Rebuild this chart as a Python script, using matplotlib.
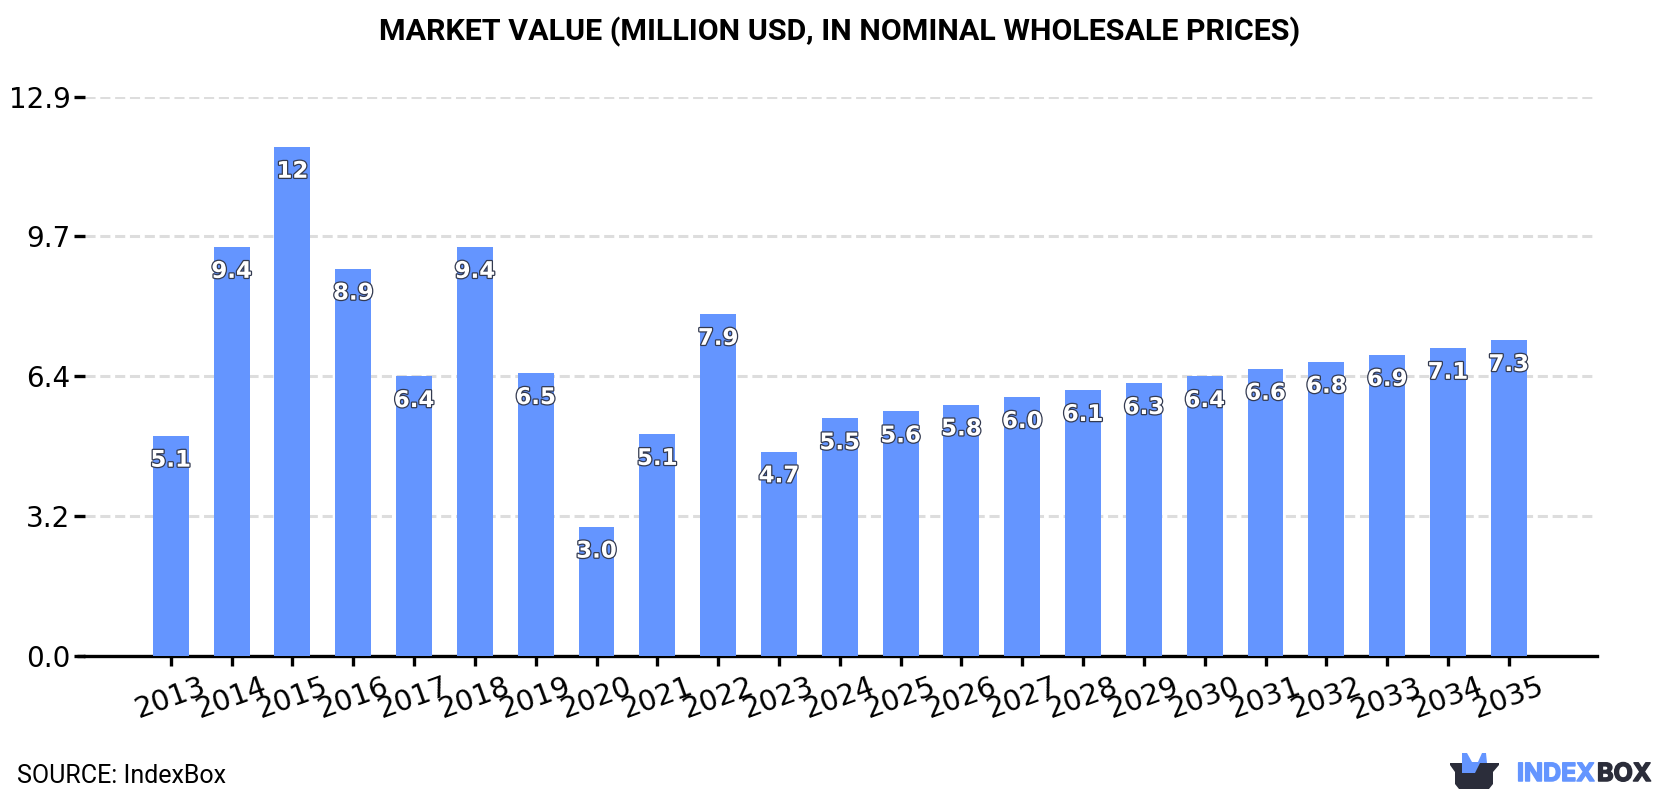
import matplotlib
matplotlib.use("Agg")
import matplotlib.pyplot as plt
import matplotlib.patheffects as pe
from matplotlib.patches import Polygon
from matplotlib.transforms import Affine2D

years = [2013, 2014, 2015, 2016, 2017, 2018, 2019, 2020, 2021, 2022, 2023, 2024,
         2025, 2026, 2027, 2028, 2029, 2030, 2031, 2032, 2033, 2034, 2035]
market_value = [5.06, 9.4, 11.7, 8.9, 6.43, 9.4, 6.5, 2.97, 5.1, 7.86, 4.7, 5.46,
                5.62, 5.78, 5.95, 6.11, 6.27, 6.43, 6.6, 6.76, 6.92, 7.08, 7.26]
y_ticks = [0.0, 3.215, 6.43, 9.645, 12.86]
y_tick_labels = ["0.0", "3.2", "6.4", "9.7", "12.9"]

BLUE = "#6495FF"
DARK = "#2B2D3A"
W, H = 1680, 800


def value_label(v):
    return f"{v:.0f}" if v >= 10 else f"{v:.1f}"


fig = plt.figure(figsize=(W / 100, H / 100), dpi=100, facecolor="white")
ax = fig.add_axes([85 / W, 1 - 656 / H, (1597 - 85) / W, (656 - 96.5) / H])

positions = list(range(len(years)))
bars = ax.bar(positions, market_value, width=0.59, color=BLUE, zorder=3)

ax.set_xlim(-1.41, 23.45)
ax.set_ylim(0, 12.86)
ax.set_yticks(y_ticks, y_tick_labels)
ax.set_xticks(positions, years)
ax.grid(axis="y", color="#DDDDDD", linestyle=(0, (3.3, 1.55)), linewidth=2.2, zorder=0)
ax.set_axisbelow(True)

for side in ("top", "left", "right"):
    ax.spines[side].set_visible(False)
ax.spines["bottom"].set_linewidth(2.4)
ax.tick_params(axis="y", length=8, width=2.4, labelsize=20, pad=2.5)
ax.tick_params(axis="x", length=7, width=2.4, labelsize=20.8, pad=5, labelrotation=20)

# The bottom spine reaches out to the end of the zero tick.
ax.plot([-8 / 1512, 0], [0, 0], transform=ax.get_yaxis_transform(), color="black",
        lw=2.4, clip_on=False, solid_capstyle="butt")

for x, v in zip(positions, market_value):
    ax.annotate(value_label(v), (x, v), xytext=(0, -17.5), textcoords="offset points",
                ha="center", va="center", fontsize=16.5, fontweight="bold",
                family="DejaVu Sans", color="white", zorder=5,
                path_effects=[pe.withStroke(linewidth=1.8, foreground="#333A50")])

fig.text(0.5, 1 - 32 / H, "MARKET VALUE (MILLION USD, IN NOMINAL WHOLESALE PRICES)",
         ha="center", va="center", family="Roboto", fontweight="bold", fontsize=21.9)
fig.text(17 / W, 1 - 776 / H, "SOURCE: IndexBox", ha="left", va="center",
         family="Roboto", fontsize=18)

# Logo: a dark open box with a blue shape rising out of it.
pixels = Affine2D().scale(1, -1).translate(0, H)
box_shape = [(1450, 763), (1499, 763), (1499, 765), (1493, 772), (1493, 784), (1489, 789),
             (1459, 789), (1455, 784), (1455, 772), (1450, 765)]
blue_shape = [(1462, 753), (1467, 753), (1472, 762), (1478, 762), (1482, 753), (1486, 753),
              (1487, 763), (1480, 763), (1475, 773), (1462, 773)]
fig.add_artist(Polygon(box_shape, closed=True, color=DARK, lw=0, transform=pixels))
fig.add_artist(Polygon(blue_shape, closed=True, color=BLUE, lw=0, transform=pixels))
fig.text(1517 / W, 1 - 774.5 / H, "INDEX", color=BLUE, family="Inter", fontweight="bold",
         fontsize=18, ha="left", va="center",
         path_effects=[pe.withStroke(linewidth=1.1, foreground=BLUE)])
fig.text(1597 / W, 1 - 774.5 / H, "BOX", color=DARK, family="Inter", fontweight="bold",
         fontsize=18, ha="left", va="center",
         path_effects=[pe.withStroke(linewidth=1.1, foreground=DARK)])

fig.savefig("out.png", dpi=100)
